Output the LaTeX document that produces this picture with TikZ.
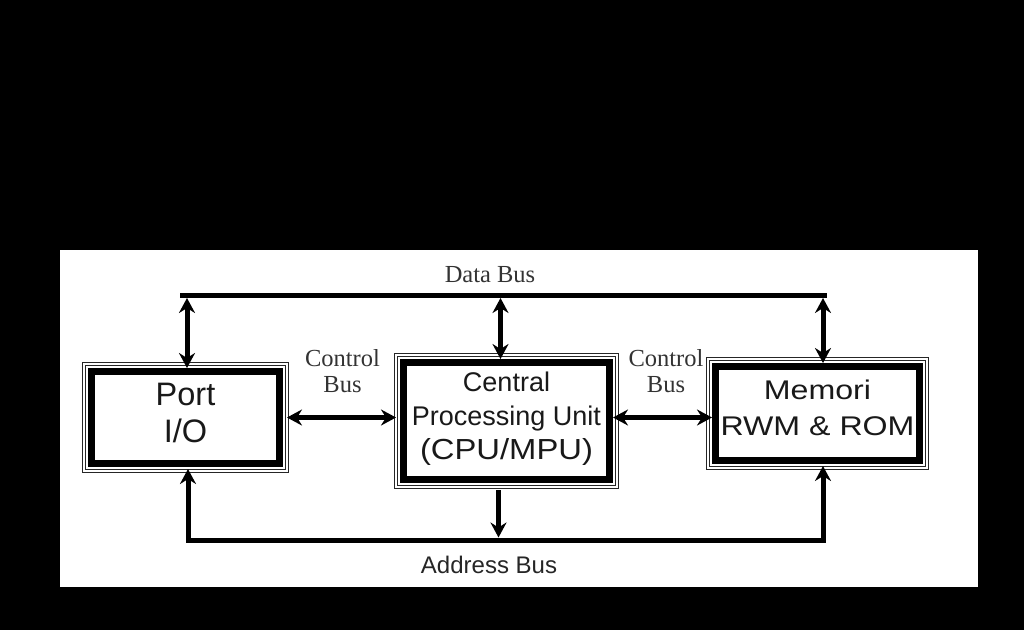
\documentclass[tikz,border=0pt]{standalone}
\usepackage{fontspec}
\setmainfont{Liberation Serif}
\newfontfamily\boxfont{Liberation Sans}
\newfontfamily\memfont[FakeStretch=1.19]{Liberation Sans}
\newfontfamily\cpufont[FakeStretch=1.13]{Liberation Sans}
\usetikzlibrary{arrows.meta}
\newcommand\dstrut[1]{\rule[-#1]{0pt}{#1}}
\begin{document}
\begin{tikzpicture}[x=1pt,y=-1pt,
  >={Stealth[length=15pt,width=16pt,inset=5pt]},
  box/.style={draw=black, line width=7pt, fill=white, inner sep=0pt, align=center, text=black!90},
  frame/.style={draw=black!85, line width=1.1pt},
  conn/.style={line width=5pt, draw=black},
  lbl/.style={font=\fontsize{24.5}{26}\selectfont, text=black!80, align=center, inner sep=0pt},
]
\useasboundingbox (0,0) rectangle (1024,630);
\fill[black] (0,0) rectangle (1024,630);
\fill[white] (60,250) rectangle (978,587);

% boxes
\node[box, minimum width=188pt, minimum height=92pt, font=\boxfont\fontsize{32.5}{37}\selectfont] (p) at (185.5,417.5) {Port\\I/O\dstrut{10pt}};
\node[box, minimum width=206pt, minimum height=117pt, font=\boxfont\fontsize{27}{34}\selectfont] (c) at (506.5,421) {Central\\Processing Unit\\{\cpufont\fontsize{29}{34}\selectfont (CPU/MPU)}\dstrut{11pt}};
\node[box, minimum width=204pt, minimum height=94pt, font=\memfont\fontsize{27}{36}\selectfont] (m) at (817.5,413.5) {Memori\\RWM \& ROM\dstrut{12pt}};

\foreach \n in {p,c,m}{
  \draw[frame] ([shift={(-2.6pt,2.6pt)}]\n.north west) rectangle ([shift={(2.6pt,-2.6pt)}]\n.south east);
  \draw[frame] ([shift={(-5.6pt,5.6pt)}]\n.north west) rectangle ([shift={(5.6pt,-5.6pt)}]\n.south east);
}

% data bus
\coordinate (db1) at (180,295.5);
\coordinate (db2) at (827,295.5);
\draw[conn] (db1) -- (db2);
\coordinate (dp) at (187,298);
\coordinate (dc) at (500.5,298);
\coordinate (dm) at (823,298);
\draw[conn,<->] (dp) -- (dp |- p.north);
\draw[conn,<->] (dc) -- (dc |- c.north);
\draw[conn,<->] (dm) -- (dm |- m.north);

% control buses
\coordinate (cy) at (0,417.5);
\draw[conn,<->] ([xshift=4pt]p.east |- cy) -- ([xshift=-4pt]c.west |- cy);
\draw[conn,<->] (c.east |- cy) -- (m.west |- cy);

% address bus
\coordinate (a1) at (188,540);
\coordinate (a2) at (823,540);
\coordinate (a3) at (498.5,537.5);
\draw[conn,<->] ([yshift=-2pt]a1 |- p.south) -- (a1) -- (a2) -- ([yshift=-2pt]a2 |- m.south);
\draw[conn,->] ([yshift=-7pt]c.south -| a3) -- (a3);

% labels
\node[lbl, font=\fontsize{24.5}{26}\selectfont, anchor=base] (dbl) at (490,282) {Data Bus};
\node[lbl] (cb1) at (342.5,371.6) {Control\\Bus};
\node[lbl] (cb2) at (666,371.6) {Control\\Bus};
\node[font=\boxfont\fontsize{24}{26}\selectfont, text=black!85, anchor=base, inner sep=0pt] (abl) at (489,573) {Address Bus};
\end{tikzpicture}
\end{document}
